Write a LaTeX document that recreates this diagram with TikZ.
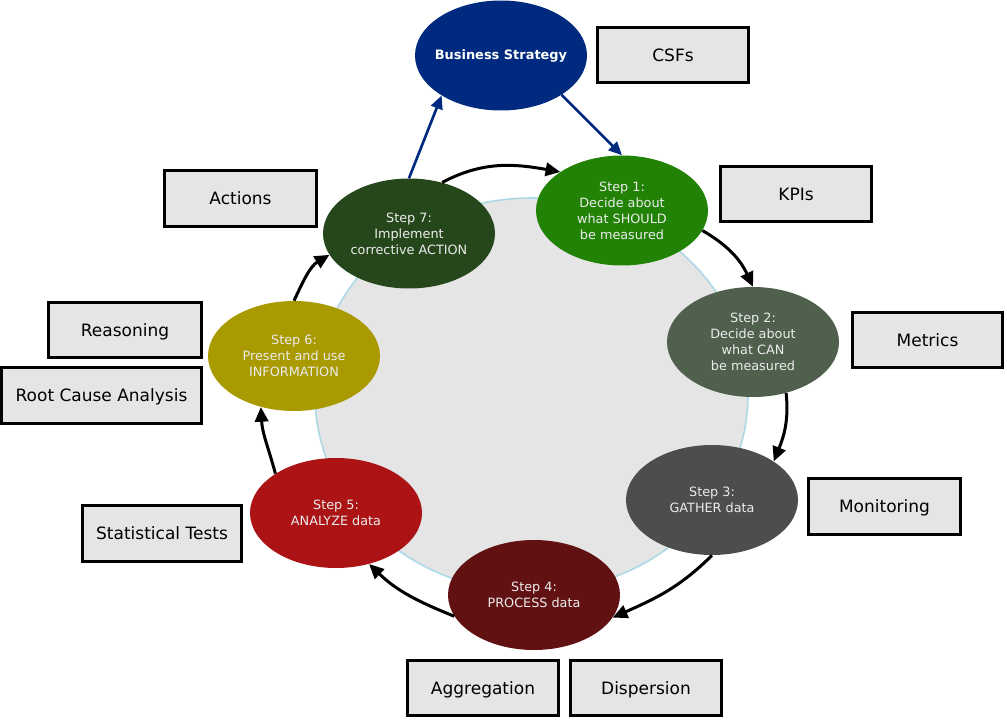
\documentclass[tikz,border=0pt]{standalone}
\usepackage{fontspec}
\setmainfont{DejaVu Sans}
\usetikzlibrary{shapes.geometric,arrows.meta}
\definecolor{bsblue}{RGB}{0,42,127}
\definecolor{cA}{RGB}{33,130,6}
\definecolor{cB}{RGB}{79,96,77}
\definecolor{cC}{RGB}{77,77,77}
\definecolor{cD}{RGB}{98,17,19}
\definecolor{cE}{RGB}{171,19,21}
\definecolor{cF}{RGB}{168,154,0}
\definecolor{cG}{RGB}{38,71,28}
\definecolor{boxgray}{RGB}{229,229,229}
\definecolor{ringblue}{RGB}{173,216,230}
\definecolor{steptext}{RGB}{236,236,236}
\tikzset{
  stepnode/.style={ellipse, inner sep=0pt, minimum width=129pt, minimum height=82.5pt,
    text=steptext, align=center, font=\fontsize{9.6}{12}\selectfont},
  boxnode/.style={rectangle, draw=black, line width=2.25pt, fill=boxgray,
    minimum width=113.25pt, minimum height=41.25pt, inner sep=0pt,
    text height=9.3pt, text depth=0pt, font=\fontsize{12.75}{15}\selectfont},
  cyc/.style={draw=black, line width=2.25pt, -{Triangle[length=11pt,width=10pt]}},
  blu/.style={draw=bsblue, line width=2pt, -{Triangle[length=10pt,width=9pt]}}
}
\begin{document}
\begin{tikzpicture}[x=0.75pt,y=-0.75pt]
\useasboundingbox (0,0) rectangle (1007,720);
% background ring
\draw[fill=boxgray, draw=ringblue, line width=1.2pt] (531.5,395) ellipse [x radius=216.5, y radius=197];
% strategy
\node[stepnode, fill=bsblue, text=white, font=\fontsize{9.7}{12}\selectfont\bfseries] (bs) at (501,55.5) {\makebox[0pt]{Business Strategy}};
% steps
\node[stepnode, fill=cA] (s1) at (622,210.5) {Step 1:\\Decide about\\what SHOULD\\ be measured};
\node[stepnode, fill=cB] (s2) at (753,342) {Step 2:\\Decide about\\what CAN\\ be measured};
\node[stepnode, fill=cC] (s3) at (712,500) {Step 3:\\GATHER data};
\node[stepnode, fill=cD] (s4) at (534,595) {Step 4:\\PROCESS data};
\node[stepnode, fill=cE] (s5) at (336,513) {Step 5:\\ANALYZE data};
\node[stepnode, fill=cF] (s6) at (294,356) {Step 6:\\Present and use\\INFORMATION};
\node[stepnode, fill=cG] (s7) at (409,233.5) {Step 7:\\Implement\\corrective ACTION};
% boxes
\node[boxnode] (csf) at (673,55) {CSFs};
\node[boxnode] (kpi) at (796,194) {KPIs};
\node[boxnode, minimum width=114pt, minimum height=42pt] (act) at (240.5,198.5) {Actions};
\node[boxnode, minimum width=112.5pt] (met) at (927.5,340) {Metrics};
\node[boxnode, minimum width=114pt, minimum height=42pt] (mon) at (884.5,506.5) {Monitoring};
\node[boxnode, minimum width=114.75pt] (rea) at (125,330) {Reasoning};
\node[boxnode, minimum width=150pt, minimum height=42pt] (rca) at (101.5,395.5) {Root Cause Analysis};
\node[boxnode, minimum width=119.25pt, minimum height=42pt] (stt) at (162,533.5) {Statistical Tests};
\node[boxnode] (agg) at (483,688) {Aggregation};
\node[boxnode] (dis) at (646,688) {Dispersion};
% cycle arrows
\draw[cyc] (s7.57) to[out=28,in=170] (s1.148);
\draw[cyc] (s1.-14) to[out=-30,in=115] (s2.90);
\draw[cyc] (s2.-57) to[out=-84,in=68] (s3.32);
\draw[cyc] (s3.-90) to[out=-135,in=24] (s4.-16);
\draw[cyc] (s4.-165) to[out=158,in=-44] (s5.-57);
\draw[cyc] (s5.147) to[out=105,in=-87] (s6.-123);
\draw[cyc] (s6.90) to[out=65,in=-149] (s7.-165);
% strategy arrows
\draw[blu] (s7.north) -- (bs.-146);
\draw[blu] (bs.-33) -- (s1.north);
\end{tikzpicture}
\end{document}
